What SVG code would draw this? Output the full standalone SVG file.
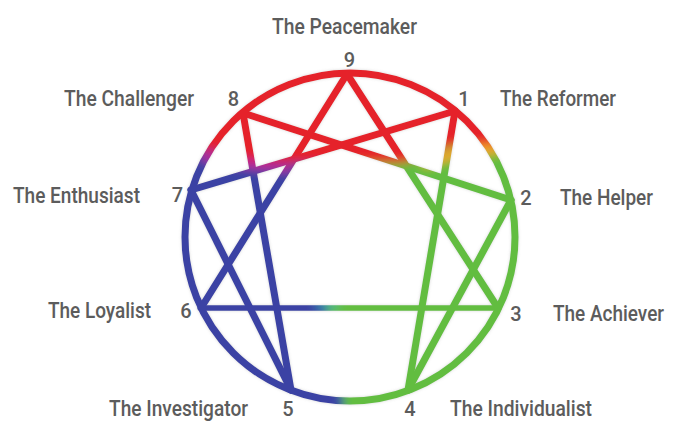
<svg xmlns="http://www.w3.org/2000/svg" width="684" height="442" viewBox="0 0 684 442">
<style>
.lbl{font-family:Roboto,"Liberation Sans",Arial,sans-serif;font-weight:500;font-size:22px;fill:#5c5c5c}
.num{font-family:Roboto,"Liberation Sans",Arial,sans-serif;font-weight:500;font-size:20px;fill:#5c5c5c;text-anchor:middle}
.ln{fill:none;stroke:url(#field);stroke-width:7;stroke-linecap:round;stroke-linejoin:round}
</style>
<defs>
<filter id="soft" x="-20%" y="-20%" width="140%" height="140%">
<feGaussianBlur stdDeviation="5"/>
</filter>
<filter id="halo" x="-10%" y="-10%" width="120%" height="120%">
<feGaussianBlur in="SourceAlpha" stdDeviation="1.8" result="b"/>
<feFlood flood-color="#888" flood-opacity="0.35"/>
<feComposite in2="b" operator="in" result="s"/>
<feMerge><feMergeNode in="s"/><feMergeNode in="SourceGraphic"/></feMerge>
</filter>
<pattern id="field" patternUnits="userSpaceOnUse" x="0" y="0" width="684" height="442">
<g filter="url(#soft)">
<rect x="-60" y="-60" width="804" height="562" fill="#3a42a4"/>
<polygon points="330,-60 744,-60 744,502 346,502 343,400 326,308 330,200" fill="#62bd3f"/>
<polygon points="316,308 338,308 338,304 316,304" fill="#2fb3b8"/>
<polygon points="420,160 460,146 500,140 500,154 460,158 424,168" fill="#f0a52a"/>
<polygon points="205,152 252,161 292,166 292,172 250,168 200,160" fill="#c8209c"/>
<polygon points="-60,-60 744,-60 744,138 486,144 450,146 404,163 291,163 251,160 210,150 -60,150" fill="#e5222a"/>
</g>
</pattern>
</defs>
<g id="connectors" filter="url(#halo)">
<ellipse class="ln" cx="350" cy="237" rx="165" ry="164"/>
<line class="ln" x1="455" y1="111" x2="408" y2="390"/>
<line class="ln" x1="408" y1="390" x2="511" y2="200"/>
<line class="ln" x1="511" y1="200" x2="243" y2="113"/>
<line class="ln" x1="243" y1="113" x2="291" y2="390"/>
<line class="ln" x1="291" y1="390" x2="191" y2="190"/>
<line class="ln" x1="191" y1="190" x2="455" y2="111"/>
<line class="ln" x1="347" y1="74" x2="498" y2="308"/>
<line class="ln" x1="498" y1="308" x2="201" y2="308" style="stroke-width:5.5"/>
<line class="ln" x1="201" y1="308" x2="347" y2="74"/>
</g>
<g id="node9"><text class="lbl" x="272" y="34" textLength="145" lengthAdjust="spacingAndGlyphs">The Peacemaker</text><text class="num" x="349.5" y="66.5">9</text></g>
<g id="node1"><text class="num" x="464" y="106">1</text><text class="lbl" x="500" y="106" textLength="116" lengthAdjust="spacingAndGlyphs">The Reformer</text></g>
<g id="node2"><text class="num" x="526" y="205">2</text><text class="lbl" x="560" y="205" textLength="93" lengthAdjust="spacingAndGlyphs">The Helper</text></g>
<g id="node3"><text class="num" x="516" y="321">3</text><text class="lbl" x="553" y="321" textLength="111" lengthAdjust="spacingAndGlyphs">The Achiever</text></g>
<g id="node4"><text class="num" x="410" y="416">4</text><text class="lbl" x="450" y="416" textLength="142" lengthAdjust="spacingAndGlyphs">The Individualist</text></g>
<g id="node5"><text class="lbl" x="109" y="416" textLength="139" lengthAdjust="spacingAndGlyphs">The Investigator</text><text class="num" x="288" y="416">5</text></g>
<g id="node6"><text class="lbl" x="48" y="318" textLength="103" lengthAdjust="spacingAndGlyphs">The Loyalist</text><text class="num" x="186" y="318">6</text></g>
<g id="node7"><text class="lbl" x="13" y="203" textLength="127" lengthAdjust="spacingAndGlyphs">The Enthusiast</text><text class="num" x="177.5" y="202">7</text></g>
<g id="node8"><text class="lbl" x="64" y="106" textLength="130" lengthAdjust="spacingAndGlyphs">The Challenger</text><text class="num" x="233.5" y="106">8</text></g>
</svg>
